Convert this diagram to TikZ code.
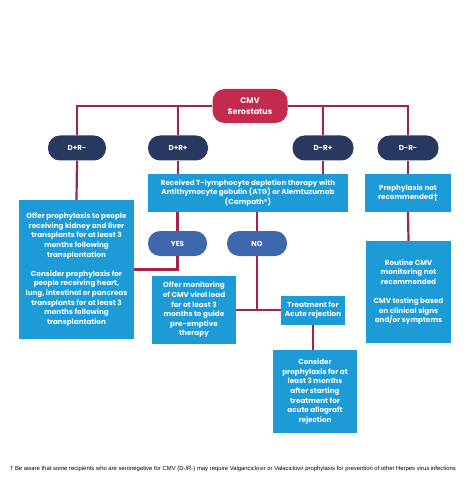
\documentclass[tikz,border=0pt]{standalone}
\usepackage{fontspec}
\setmainfont{Poppins}
\newfontfamily\notefont{Liberation Sans}
\definecolor{crimson}{HTML}{C22B4E}
\definecolor{linered}{HTML}{A62347}
\definecolor{navy}{HTML}{28385E}
\definecolor{skyblue}{HTML}{1D9BD7}
\definecolor{answerblue}{HTML}{3F67AE}
\begin{document}
\begin{tikzpicture}[
        x=1pt, y=-1pt,
        pill/.style={fill=navy, text=white, rounded corners=12pt, minimum height=25pt, inner sep=0pt, font=\bfseries\fontsize{7.2}{8}\selectfont}, % Group pills
        answer/.style={pill, fill=answerblue}, % Yes / no pills
        info/.style={fill=skyblue, text=white, align=center, inner sep=0pt, font=\bfseries\fontsize{7.2}{9.6}\selectfont}, % Box styling
        link/.style={line width=2.2pt, draw=linered} % Line styling
        ]
        \useasboundingbox (0,0) rectangle (474,486);

        % Define nodes
        \node (cmv) [pill, fill=crimson, minimum width=75pt, minimum height=34pt, align=center, font=\bfseries\fontsize{8}{10.5}\selectfont] at (250,106) {CMV\\Serostatus};
        \node (dpm) [pill, minimum width=58pt] at (77,148) {D+R-};
        \node (dpp) [pill, minimum width=60pt] at (178,148) {D+R+};
        \node (dmp) [pill, minimum width=61pt] at (323,148) {D-R+};
        \node (dmm) [pill, minimum width=61pt] at (408,148) {D-R-};

        \node (received) [info, minimum width=200pt, minimum height=38pt] at (248,193) {Received T-lymphocyte depletion therapy with\\Antithymocyte gobulin (ATG) or Alemtuzumab\\(Campath®)};
        \node (notrec) [info, minimum width=86pt, minimum height=38pt] at (408,193) {Prophylaxis not\\recommended†};
        \node (offerprophy) [info, minimum width=115pt, minimum height=139pt] at (76.5,269.5) {Offer prophylaxis to people\\receiving kidney and liver\\transplants for at least 3\\months following\\transplantation\\[9.6pt]Consider prophylaxis for\\people receiving heart,\\lung, intestinal or pancreas\\transplants for at least 3\\months following\\transplantation};

        \node (yes) [answer, minimum width=59pt] at (177.5,243.5) {YES};
        \node (no) [answer, minimum width=60pt] at (257,243.5) {NO};

        \node (monitor) [info, minimum width=84pt, minimum height=68pt] at (194,310) {Offer monitoring\\of CMV viral load\\for at least 3\\months to guide\\pre-emptive\\therapy};
        \node (rejection) [info, minimum width=64pt, minimum height=29pt] at (313,310) {Treatment for\\Acute rejection};
        \node (consider) [info, minimum width=84pt, minimum height=83pt] at (315,391.5) {Consider\\prophylaxis for at\\least 3 months\\after starting\\treatment for\\acute allograft\\rejection};
        \node (routine) [info, minimum width=85pt, minimum height=102pt] at (408.5,292) {Routine CMV\\monitoring not\\recommended\\[9.6pt]CMV testing based\\on clinical signs\\and/or symptoms};

        \node (footnote) [font=\notefont\fontsize{5.9}{7}\selectfont, inner sep=0pt] at (233,469) {† Be aware that some recipients who are seronegative for CMV (D-/R-) may require Valganciclovir or Valaciclovir prophylaxis for prevention of other Herpes virus infections};

        % Draw lines
        \draw[link] (dpm.north) |- (cmv.west);
        \draw[link] (cmv.east) -| (dmm.north);
        \draw[link] (dpp.north) -- (dpp.north |- cmv.west);
        \draw[link] (dmp.north) -- (dmp.north |- cmv.east);

        \draw[link] (dpm.south) -- (offerprophy.north);
        \draw[link] (dpp.south) -- (dpp.south |- received.north);
        \draw[link] (dmp.south) -- (dmp.south |- received.north);
        \draw[link] (dmm.south) -- (notrec.north);

        \draw[link] (yes.north |- received.south) -- (yes.north);
        \draw[link] (no.north |- received.south) -- (no.north);
        \draw[link] (yes.south) |- (offerprophy.east);
        \draw[link] (monitor.east) -- (rejection.west);
        \draw[link] (no.south) -- (no.south |- rejection.west);
        \draw[link] (rejection.south) -- (rejection.south |- consider.north);
        \draw[link] (notrec.south) -- (routine.north);

    \end{tikzpicture}
\end{document}
